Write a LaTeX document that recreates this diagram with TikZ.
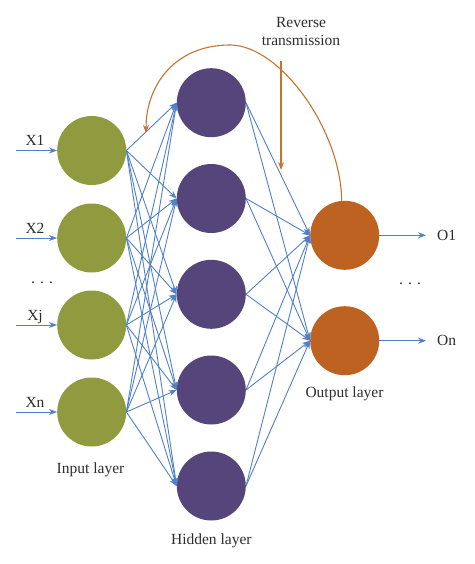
\documentclass[tikz,border=0pt]{standalone}
\usepackage{fontspec}
\setmainfont{Liberation Serif}
\usetikzlibrary{arrows.meta}
\definecolor{ingreen}{RGB}{143,155,62}
\definecolor{hidpurple}{RGB}{86,69,122}
\definecolor{outorange}{RGB}{189,98,32}
\definecolor{linkblue}{RGB}{80,128,200}
\definecolor{revorange}{RGB}{196,116,46}
\definecolor{txt}{RGB}{45,45,45}
\begin{document}
\begin{tikzpicture}[x=1pt,y=-1pt,
  neuron/.style={circle,minimum size=69pt,inner sep=0pt},
  innode/.style={neuron,fill=ingreen},
  hidnode/.style={neuron,fill=hidpurple},
  outnode/.style={neuron,fill=outorange},
  link/.style={draw=linkblue,line width=0.9pt,-{Stealth[length=8pt,width=6pt]}},
  rev/.style={draw=revorange,line width=1.1pt,-{Stealth[length=8pt,width=6pt]}},
  lbl/.style={font=\fontsize{15.5pt}{18.5pt}\selectfont,text=txt,inner sep=0pt}]
\useasboundingbox (0,0) rectangle (474,564);
% nodes
\node[innode] (i1) at (91.7,150.5) {};
\node[innode] (i2) at (91.7,238) {};
\node[innode] (i3) at (91.7,325) {};
\node[innode] (i4) at (91.7,412) {};
\node[hidnode] (h1) at (211.3,102.7) {};
\node[hidnode] (h2) at (211.3,198.5) {};
\node[hidnode] (h3) at (211.3,294.3) {};
\node[hidnode] (h4) at (211.3,390) {};
\node[hidnode] (h5) at (211.3,486) {};
\node[outnode] (o1) at (344.7,235.3) {};
\node[outnode] (o2) at (344.7,340.7) {};
% connections
\foreach \i in {1,...,4}
  \foreach \h in {1,...,5}
    \draw[link] (i\i.east) -- (h\h.west);
\foreach \h in {1,...,5}
  \foreach \o in {1,2}
    \draw[link] (h\h.east) -- (o\o.west);
% inputs
\coordinate (s1) at (16,150.5);
\coordinate (s2) at (16,238);
\coordinate (s3) at (16,325);
\coordinate (s4) at (16,412);
\foreach \k in {1,...,4} \draw[link] (s\k) -- (i\k.west);
\node[lbl,anchor=base] (lx1) at (35,146) {X1};
\node[lbl,anchor=base] (lx2) at (35,233.5) {X2};
\node[lbl,anchor=base] (ldots) at (42,283) {. . .};
\node[lbl,anchor=base] (lxj) at (35,320.5) {Xj};
\node[lbl,anchor=base] (lxn) at (35,407.5) {Xn};
% outputs
\coordinate (e1) at (426,235.3);
\coordinate (e2) at (426,340.7);
\draw[link] (o1.east) -- (e1);
\draw[link] (o2.east) -- (e2);
\node[lbl,anchor=west] (lo1) at (437,235.3) {O1};
\node[lbl,anchor=west] (lon) at (437,340.7) {On};
\node[lbl,anchor=base] (odots) at (410,284) {. . .};
% layer labels
\node[lbl,anchor=base] (linput) at (90.5,473) {Input layer};
\node[lbl,anchor=base] (lhidden) at (211.3,544) {Hidden layer};
\node[lbl,anchor=base] (loutput) at (344.5,397) {Output layer};
\node[lbl,align=center] (lrev) at (301,31.5) {Reverse\\transmission};
% reverse transmission
\coordinate (rtop) at (230,45);
\coordinate (rend) at (146,133);
\draw[rev] (o1.95) .. controls (341,130) and (280,45) .. (rtop)
  .. controls (175,45) and (146,85) .. (rend);
\coordinate (va) at (281,61);
\coordinate (vb) at (281,170);
\draw[rev] (va) -- (vb);
\end{tikzpicture}
\end{document}
